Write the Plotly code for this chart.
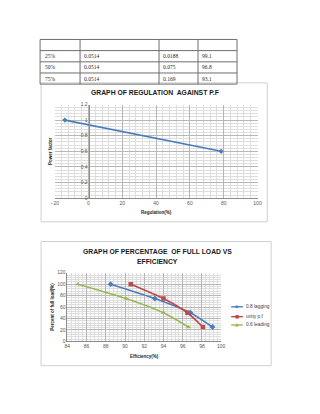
import plotly.graph_objects as go

W, H = 320, 414

def px(x):
    return x / W

def py(y):
    return 1 - y / H

# ---------------- data ----------------
table_load = ["25%", "50%", "75%"]
table_col2 = ["0.0514", "0.0514", "0.0514"]
table_col3 = ["0.0188", "0.075", "0.169"]
table_col4 = ["99.1", "96.8", "93.1"]

reg_x = [-14, 78.5]          # Regulation (%)
reg_pf = [1.0, 0.6]          # Power factor

load_pct = [100, 75, 50, 25]
eff_lag = [88.5, 93.1, 96.8, 99.1]
eff_unity = [90.6, 94.0, 96.5, 98.1]
eff_lead = [85.1, 90.1, 94.0, 96.6]

series_names = ["0.8 lagging", "unity p.f", "0.6 leading"]
series_colors = ["#4A7EBB", "#BE4B48", "#98B954"]
series_symbols = ["diamond", "square", "triangle-up"]

FONT = "Liberation Sans"
GRID_MAJ = "#B7B7B7"
GRID_MIN = "#DEDEDE"
TICK_C = "#595959"

fig = go.Figure()

# ---------------- chart 1 ----------------
fig.add_trace(go.Scatter(
    x=reg_x, y=reg_pf, mode="lines+markers", xaxis="x", yaxis="y",
    line=dict(color="#4A7EBB", width=1.6),
    marker=dict(symbol="diamond", size=4, color="#4A7EBB"),
    showlegend=False,
))

# ---------------- chart 2 ----------------
for name, vals, col, sym in zip(series_names, [eff_lag, eff_unity, eff_lead],
                                series_colors, series_symbols):
    fig.add_trace(go.Scatter(
        x=vals, y=load_pct, mode="lines+markers", xaxis="x2", yaxis="y2",
        name=name, line=dict(color=col, width=1.6, shape="spline", smoothing=0.6),
        marker=dict(symbol=sym, size=4.5, color=col),
        showlegend=False,
    ))

tickfont = dict(family=FONT, size=5, color=TICK_C)

x0_pos = px(52 + (260 - 52) * 20 / 120)

fig.update_layout(
    width=W, height=H, margin=dict(l=0, r=0, t=0, b=0),
    paper_bgcolor="white", plot_bgcolor="white",
    xaxis=dict(domain=[px(52), px(260)], range=[-20, 100], dtick=20,
               anchor="y", showgrid=True, gridcolor=GRID_MAJ, gridwidth=0.7,
               minor=dict(dtick=4, showgrid=True, gridcolor=GRID_MIN, gridwidth=0.5),
               zeroline=False, showline=True, linecolor="#8C8C8C", linewidth=0.8,
               tickfont=tickfont, ticks="", fixedrange=True),
    yaxis=dict(domain=[py(198), py(103)], range=[0, 1.2], dtick=0.2,
               anchor="free", position=x0_pos, showgrid=True, gridcolor=GRID_MAJ,
               gridwidth=0.7,
               minor=dict(dtick=0.04, showgrid=True, gridcolor=GRID_MIN, gridwidth=0.5),
               zeroline=False, showline=True, linecolor="#8C8C8C", linewidth=0.8,
               tickfont=tickfont, ticks="", tickformat="~g", fixedrange=True),
    xaxis2=dict(domain=[px(65), px(222.7)], range=[84, 100], dtick=2,
                anchor="y2", showgrid=True, gridcolor=GRID_MAJ, gridwidth=0.7,
                minor=dict(dtick=0.4, showgrid=True, gridcolor=GRID_MIN, gridwidth=0.5),
                zeroline=False, showline=True, linecolor="#8C8C8C", linewidth=0.8,
                tickfont=tickfont, ticks="", fixedrange=True),
    yaxis2=dict(domain=[py(343.3), py(273.7)], range=[0, 120], dtick=20,
                anchor="x2", showgrid=True, gridcolor=GRID_MAJ, gridwidth=0.7,
                minor=dict(dtick=4, showgrid=True, gridcolor=GRID_MIN, gridwidth=0.5),
                zeroline=False, showline=True, linecolor="#8C8C8C", linewidth=0.8,
                tickfont=tickfont, ticks="", fixedrange=True),
    showlegend=False,
)

shapes = [
    dict(type="rect", xref="paper", yref="paper", x0=px(38), x1=px(270),
         y0=py(222), y1=py(81), line=dict(color="#D0D0D0", width=1)),
    dict(type="rect", xref="paper", yref="paper", x0=px(38), x1=px(274),
         y0=py(368), y1=py(242), line=dict(color="#D0D0D0", width=1)),
]

annotations = []

# ---------------- table (drawn with shapes + text) ----------------
col_edges = [37, 78, 159, 199, 239]
row_edges = [37, 48.3, 59.7, 71, 82.3]
for xe in col_edges:
    shapes.append(dict(type="line", xref="paper", yref="paper",
                       x0=px(xe), x1=px(xe), y0=py(row_edges[0]), y1=py(row_edges[-1]),
                       line=dict(color="#6E6E6E", width=1)))
for ye in row_edges:
    shapes.append(dict(type="line", xref="paper", yref="paper",
                       x0=px(col_edges[0]), x1=px(col_edges[-1]), y0=py(ye), y1=py(ye),
                       line=dict(color="#6E6E6E", width=1)))
table_cols = [table_load, table_col2, table_col3, table_col4]
for ci, colvals in enumerate(table_cols):
    for ri, val in enumerate(colvals):
        yc = (row_edges[ri + 1] + row_edges[ri + 2]) / 2
        annotations.append(dict(text=val, x=px(col_edges[ci] + 2.5), y=py(yc),
                                xanchor="left",
                                font=dict(family="Liberation Serif", size=5.5,
                                          color="#2A2A2A")))

annotations += [
    dict(text="<b>GRAPH OF REGULATION  AGAINST P.F</b>", x=px(155), y=py(91),
         font=dict(family=FONT, size=6.8, color="#1A1A1A")),
    dict(text="<b>Regulation(%)</b>", x=px(156), y=py(213),
         font=dict(family=FONT, size=4.5, color="#262626")),
    dict(text="<b>Power factor</b>", x=px(48), y=py(150.5), textangle=-90,
         font=dict(family=FONT, size=4.5, color="#262626")),
    dict(text="<b>GRAPH OF PERCENTAGE  OF FULL LOAD VS</b>", x=px(157), y=py(252),
         font=dict(family=FONT, size=6.8, color="#1A1A1A")),
    dict(text="<b>EFFICIENCY</b>", x=px(157), y=py(262),
         font=dict(family=FONT, size=6.8, color="#1A1A1A")),
    dict(text="<b>Efficiency(%)</b>", x=px(144), y=py(358.7),
         font=dict(family=FONT, size=4.5, color="#262626")),
    dict(text="<b>Percent of full load(%)</b>", x=px(49), y=py(308.5), textangle=-90,
         font=dict(family=FONT, size=4.5, color="#262626")),
]

# custom legend (chart 2)
leg_y = [308.3, 318.3, 326.7]
marker_glyph = {"diamond": "\u25C6", "square": "\u25A0", "triangle-up": "\u25B2"}
for name, col, sym, ly in zip(series_names, series_colors, series_symbols, leg_y):
    shapes.append(dict(type="line", xref="paper", yref="paper",
                       x0=px(233), x1=px(245), y0=py(ly), y1=py(ly),
                       line=dict(color=col, width=1.4)))
    annotations.append(dict(text=marker_glyph[sym], x=px(239), y=py(ly),
                            font=dict(family="DejaVu Sans", size=4.5, color=col)))
    annotations.append(dict(text=name, x=px(246), y=py(ly), xanchor="left",
                            font=dict(family=FONT, size=4.8, color="#404040")))

for a in annotations:
    a.setdefault("xref", "paper")
    a.setdefault("yref", "paper")
    a.setdefault("showarrow", False)
    a.setdefault("xanchor", "center")
    a.setdefault("yanchor", "middle")

fig.update_layout(shapes=shapes, annotations=annotations)

fig.write_html("out.html")
